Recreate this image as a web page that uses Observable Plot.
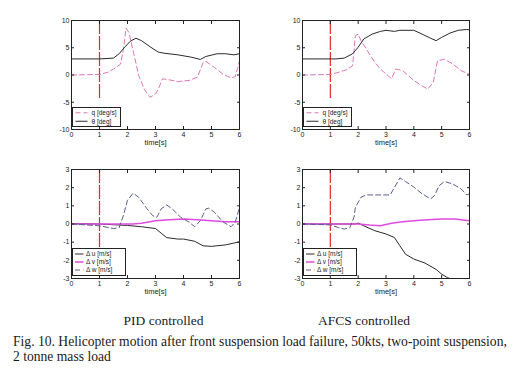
<!DOCTYPE html>
<html><head><meta charset="utf-8">
<script src="https://cdn.jsdelivr.net/npm/d3@7"></script>
<script src="https://cdn.jsdelivr.net/npm/@observablehq/plot@0.6"></script>
<style>
html,body{margin:0;padding:0;background:#fff}
#wrap{position:relative;width:516px;height:371px;overflow:hidden;background:#fff}
#wrap svg{position:absolute;overflow:visible}
</style></head>
<body><div id="wrap"></div>
<script>
// ---------- data ----------
const failureTime = 1;
const xTicks = [0, 1, 2, 3, 4, 5, 6];
const yTicksTop = [-10, -5, 0, 5, 10];
const yTicksBottom = [-3, -2, -1, 0, 1, 2, 3];

// PID controlled: pitch rate q [deg/s] and pitch angle θ [deg]
const pidQ_t = [0, 1.0, 1.3, 1.5, 1.75, 1.85, 1.95, 2.05, 2.2, 2.4, 2.6, 2.8, 3.0, 3.1, 3.25, 3.5, 3.8, 4.2, 4.5, 4.7, 4.8, 5.1, 5.4, 5.7, 5.85, 6.0];
const pidQ_v = [0, 0.1, 0.5, 1.1, 2.0, 4.5, 8.6, 7.8, 4.5, -0.1, -2.6, -4.1, -3.5, -2.6, -0.7, -0.9, -1.2, -1.0, -0.4, 2.3, 2.5, 1.4, 0.2, -0.55, -0.3, 2.6];
const pidTheta_t = [0, 1.0, 1.5, 1.7, 1.9, 2.1, 2.3, 2.5, 2.8, 3.1, 3.3, 3.8, 4.3, 4.6, 4.8, 5.2, 5.5, 5.8, 6.0];
const pidTheta_v = [2.95, 2.95, 3.1, 3.9, 5.1, 6.2, 6.75, 6.3, 5.2, 4.2, 4.0, 3.7, 3.25, 2.85, 3.4, 3.9, 3.9, 3.7, 3.9];

// AFCS controlled: q and θ
const afcsQ_t = [0, 1.0, 1.3, 1.6, 1.8, 1.9, 2.0, 2.1, 2.4, 2.6, 2.8, 3.0, 3.2, 3.35, 3.6, 4.0, 4.3, 4.5, 4.7, 4.85, 5.1, 5.4, 5.7, 6.0];
const afcsQ_v = [0, 0.1, 0.5, 1.0, 1.7, 7.2, 7.5, 6.3, 3.9, 2.3, 1.1, 0.2, -0.7, 1.1, 0.8, -1.0, -2.0, -2.6, -1.3, 2.6, 2.9, 2.0, 0.8, 0.1];
const afcsTheta_t = [0, 1.2, 1.5, 1.8, 2.0, 2.2, 2.5, 2.8, 3.0, 3.3, 3.5, 4.0, 4.3, 4.6, 4.8, 5.0, 5.3, 5.6, 5.9, 6.0];
const afcsTheta_v = [2.95, 2.95, 3.1, 3.9, 5.1, 6.6, 7.5, 8.0, 8.2, 8.0, 8.2, 8.2, 7.5, 6.75, 6.3, 6.9, 7.7, 8.2, 8.35, 8.3];

// PID controlled: Δu, Δv, Δw [m/s]
const pidU_t = [0, 1.0, 2.0, 2.5, 3.0, 3.2, 3.4, 3.8, 4.0, 4.4, 4.7, 5.0, 5.5, 5.8, 6.0];
const pidU_v = [0.02, 0.0, -0.08, -0.15, -0.25, -0.5, -0.75, -0.83, -0.83, -0.95, -1.2, -1.23, -1.15, -1.05, -0.98];
const pidV_t = [0, 2.2, 2.5, 3.0, 3.5, 4.0, 4.5, 5.0, 5.5, 6.0];
const pidV_v = [0, 0, 0.04, 0.18, 0.24, 0.27, 0.24, 0.18, 0.13, 0.13];
const pidW_t = [0, 1.0, 1.5, 1.7, 1.85, 2.0, 2.2, 2.4, 2.7, 2.9, 3.05, 3.2, 3.4, 3.6, 3.9, 4.2, 4.4, 4.6, 4.8, 4.9, 5.1, 5.4, 5.7, 5.85, 6.0];
const pidW_v = [0, -0.1, -0.25, -0.2, 0.45, 1.3, 1.7, 1.47, 0.83, 0.46, 0.37, 0.83, 1.05, 0.83, 0.37, 0.1, -0.15, 0.18, 0.83, 0.87, 0.65, 0.13, -0.15, 0.1, 0.92];

// AFCS controlled: Δu, Δv, Δw [m/s]
const afcsU_t = [0, 1.9, 2.0, 2.2, 2.6, 3.0, 3.3, 3.5, 3.7, 4.0, 4.4, 4.8, 5.0, 5.2, 5.4, 6.0];
const afcsU_v = [0, 0, 0.05, -0.1, -0.37, -0.55, -0.74, -1.2, -1.66, -1.93, -2.15, -2.5, -2.76, -2.95, -3.05, -3.6];
const afcsV_t = [0, 2.0, 2.4, 2.8, 3.2, 3.6, 4.0, 4.5, 5.0, 5.5, 6.0];
const afcsV_v = [0, 0, -0.06, -0.1, 0.04, 0.13, 0.18, 0.24, 0.27, 0.27, 0.18];
const afcsW_t = [0, 1.0, 1.3, 1.5, 1.7, 1.85, 1.9, 2.1, 2.3, 2.6, 2.9, 3.15, 3.3, 3.5, 3.7, 4.0, 4.3, 4.6, 4.75, 4.9, 5.1, 5.4, 5.7, 5.9, 6.0];
const afcsW_v = [0, -0.05, -0.2, -0.28, -0.2, 0.37, 0.92, 1.47, 1.6, 1.6, 1.6, 1.6, 2.0, 2.54, 2.34, 2.03, 1.66, 1.38, 1.57, 2.1, 2.34, 2.2, 1.93, 1.6, 1.66];

const legendTop = ["q [deg/s]", "θ [deg]"];
const legendBottom = ["Δ u [m/s]", "Δ v [m/s]", "Δ w [m/s]"];
const subTitles = ["PID controlled", "AFCS controlled"];
const captionLines = ["Fig. 10. Helicopter motion after front suspension load failure, 50kts, two-point suspension,", "2 tonne mass load"];

// ---------- styles ----------
const ST = {
  q: {stroke: "#dc78b4", strokeWidth: 1, strokeDasharray: "5,3"},
  theta: {stroke: "#2a2a2a", strokeWidth: 1},
  u: {stroke: "#2a2a2a", strokeWidth: 1},
  v: {stroke: "#e04ae0", strokeWidth: 1.5},
  w: {stroke: "#5c5c8c", strokeWidth: 1, strokeDasharray: "5,3"},
  rule: {stroke: "#e8262e", strokeWidth: 1.2, strokeDasharray: "14,2"}
};

const zip = (t, v) => t.map((x, i) => ({t: x, v: v[i]}));

function panel(o) {
  const marks = [
    Plot.ruleX([failureTime], {y1: o.ruleY[0], y2: o.ruleY[1], ...ST.rule}),
    ...o.series.map(s => Plot.line(zip(s.t, s.v), {x: "t", y: "v", clip: true, ...ST[s.style]})),
    Plot.frame({stroke: "#222", strokeWidth: 1}),
    Plot.axisX({ticks: xTicks, tickSize: -3, tickPadding: 6, tickFormat: d => String(d), label: null}),
    Plot.axisX({anchor: "top", ticks: xTicks, tickSize: -3, tickFormat: () => "", label: null}),
    Plot.axisY({ticks: o.yTicks, tickSize: -3, tickPadding: 5, tickFormat: d => String(d), label: null}),
    Plot.axisY({anchor: "right", ticks: o.yTicks, tickSize: -3, tickFormat: () => "", label: null}),
    Plot.text(["time[s]"], {frameAnchor: "bottom", dy: 15, fontSize: 7.5, fill: "#222"})
  ];
  const svg = Plot.plot({
    width: o.w, height: o.h,
    marginLeft: o.ml, marginRight: o.mr, marginTop: o.mt, marginBottom: o.mb,
    x: {domain: [0, 6]},
    y: {domain: o.yDomain},
    style: {fontFamily: "'Liberation Sans', Arial, sans-serif", fontSize: "7px", color: "#222", background: "transparent", overflow: "visible"},
    marks
  });
  svg.style.left = o.left + "px";
  svg.style.top = o.top + "px";
  // legend box (drawn on top, white background)
  const s = d3.select(svg);
  const x0 = o.ml + 1.5, rowH = o.rowH;
  const n = o.legend.length;
  const bh = o.legendH;
  const y0 = o.h - o.mb - 2.5 - bh;
  const g = s.append("g").attr("text-anchor", "start");
  g.append("rect").attr("x", x0).attr("y", y0).attr("width", o.legendW).attr("height", bh)
    .attr("fill", "#fff").attr("stroke", "#222").attr("stroke-width", 1);
  o.legend.forEach((label, i) => {
    const st = ST[o.series[i].style];
    const cy = y0 + bh / 2 + (i - (n - 1) / 2) * rowH;
    g.append("line").attr("x1", x0 + o.sx1).attr("x2", x0 + o.sx2).attr("y1", cy).attr("y2", cy)
      .attr("stroke", st.stroke).attr("stroke-width", st.strokeWidth)
      .attr("stroke-dasharray", st.strokeDasharray || null);
    g.append("text").attr("x", x0 + o.tx).attr("y", cy).attr("dy", "0.35em").attr("text-anchor", "start")
      .attr("font-size", 6.5).attr("font-family", "'Liberation Sans', Arial, sans-serif").attr("fill", "#222")
      .text(label);
  });
  document.getElementById("wrap").appendChild(svg);
}

const topCommon = {w: 258, h: 150, mt: 20, mb: 21, yDomain: [-10, 10], yTicks: yTicksTop, ruleY: [10, -4.5],
  legend: legendTop, legendW: 48, legendH: 19, rowH: 8.5, sx1: 3, sx2: 15, tx: 19};
const botCommon = {w: 258, h: 160, mt: 19, mb: 32, yDomain: [-3, 3], yTicks: yTicksBottom, ruleY: [3, -2],
  legend: legendBottom, legendW: 53, legendH: 27, rowH: 8, sx1: 2.5, sx2: 11, tx: 13.5};

panel({...topCommon, left: 0, top: 0, ml: 71, mr: 19,
  series: [{t: pidQ_t, v: pidQ_v, style: "q"}, {t: pidTheta_t, v: pidTheta_v, style: "theta"}]});
panel({...topCommon, left: 258, top: 0, ml: 44, mr: 47,
  series: [{t: afcsQ_t, v: afcsQ_v, style: "q"}, {t: afcsTheta_t, v: afcsTheta_v, style: "theta"}]});
panel({...botCommon, left: 0, top: 150, ml: 71, mr: 19,
  series: [{t: pidU_t, v: pidU_v, style: "u"}, {t: pidV_t, v: pidV_v, style: "v"}, {t: pidW_t, v: pidW_v, style: "w"}]});
panel({...botCommon, left: 258, top: 150, ml: 44, mr: 47,
  series: [{t: afcsU_t, v: afcsU_v, style: "u"}, {t: afcsV_t, v: afcsV_v, style: "v"}, {t: afcsW_t, v: afcsW_v, style: "w"}]});

// captions
const cap = d3.select("#wrap").append("svg").attr("width", 516).attr("height", 371)
  .style("left", "0px").style("top", "0px")
  .attr("font-family", "'Liberation Serif', 'Times New Roman', serif").attr("fill", "#1a1a1a");
cap.append("text").attr("x", 163.5).attr("y", 325).attr("text-anchor", "middle").attr("font-size", 13.5).text(subTitles[0]);
cap.append("text").attr("x", 364).attr("y", 325).attr("text-anchor", "middle").attr("font-size", 13.5).text(subTitles[1]);
cap.append("text").attr("x", 13).attr("y", 346).attr("font-size", 13.6).text(captionLines[0]);
cap.append("text").attr("x", 13).attr("y", 361).attr("font-size", 13.6).text(captionLines[1]);
</script>
</body></html>
